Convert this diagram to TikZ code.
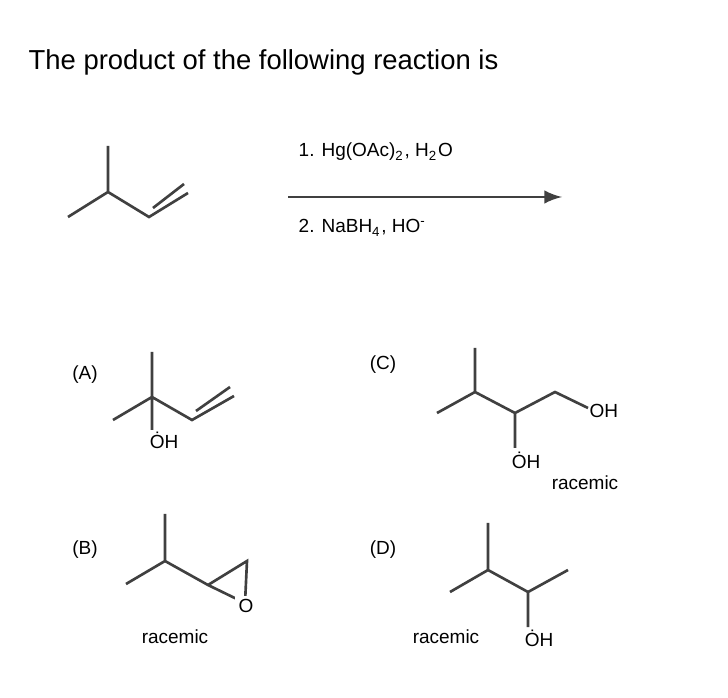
\documentclass[tikz,border=0pt]{standalone}
\usepackage{fontspec}
\setmainfont{Liberation Sans}
\usetikzlibrary{calc}
\begin{document}
\begin{tikzpicture}[x=0.01cm,y=-0.01cm,
  bond/.style={line width=0.75pt,color=black!75},
  lbl/.style={inner sep=0pt,font=\fontsize{5.4pt}{6pt}\selectfont},
  title/.style={inner sep=0pt,font=\fontsize{7.8pt}{9pt}\selectfont}]
\useasboundingbox[fill=white] (0,0) rectangle (728,698);
\node[title,anchor=west] (t) at (28,62) {The product of the following reaction is};
% starting material
\coordinate (s1) at (68,217); \coordinate (s2) at (108,192); \coordinate (s3) at (108,146);
\coordinate (s4) at (149,217); \coordinate (s5) at (188,193);
\draw[bond] (s1)--(s2)--(s3) (s2)--(s4)--(s5);
\draw[bond] ($(s4)+(4,-9)$) -- ($(s5)+(-4,-9)$);
% arrow
\coordinate (a1) at (288,197); \coordinate (a2) at (562,197);
\draw[bond,-latex] (a1)--(a2);
\node[lbl,anchor=west] (r1) at (298,152) {1. Hg(OAc)\textsubscript{2}, H\textsubscript{2}O};
\node[lbl,anchor=west] (r2) at (298,228) {2. NaBH\textsubscript{4}, HO\textsuperscript{-}};
% A
\node[lbl] (la) at (85,375) {(A)};
\coordinate (a0) at (152,397); \coordinate (at) at (152,352); \coordinate (al) at (113,420);
\coordinate (ar) at (192,420); \coordinate (ae) at (234,396); \coordinate (ao) at (152,430);
\draw[bond] (al)--(a0)--(at) (a0)--(ar)--(ae) (a0)--(ao);
\draw[bond] ($(ar)+(4,-9)$) -- ($(ae)+(-4,-9)$);
\node[lbl] (oha) at (164,440) {ȮH};
% B
\node[lbl] (lb) at (85,550) {(B)};
\coordinate (b1) at (126,584); \coordinate (b2) at (165,561); \coordinate (b3) at (165,514);
\coordinate (b4) at (208,585); \coordinate (b5) at (247,561); \coordinate (bo) at (245,603);
\draw[bond] (b1)--(b2)--(b3) (b2)--(b4)--(b5)--(bo) (b4)--(bo);
\node[lbl,fill=white,inner sep=1pt] (ob) at (246,606) {O};
\node[lbl] (rb) at (175,637) {racemic};
% C
\node[lbl] (lc) at (383,365) {(C)};
\coordinate (c1) at (437,413); \coordinate (c2) at (475,392); \coordinate (c3) at (475,348);
\coordinate (c4) at (515,413); \coordinate (c5) at (515,448); \coordinate (c6) at (555,392);
\coordinate (c7) at (588,408);
\draw[bond] (c1)--(c2)--(c3) (c2)--(c4)--(c5) (c4)--(c6)--(c7);
\node[lbl] (ohc1) at (526,460) {ȮH};
\node[lbl,anchor=west] (ohc2) at (589,411) {OH};
\node[lbl] (rc) at (585,483) {racemic};
% D
\node[lbl] (ld) at (383,550) {(D)};
\coordinate (d1) at (450,592); \coordinate (d2) at (488,570); \coordinate (d3) at (488,523);
\coordinate (d4) at (528,592); \coordinate (d5) at (568,570); \coordinate (d6) at (528,627);
\draw[bond] (d1)--(d2)--(d3) (d2)--(d4)--(d5) (d4)--(d6);
\node[lbl] (ohd) at (539,638) {ȮH};
\node[lbl] (rd) at (446,637) {racemic};
\end{tikzpicture}
\end{document}
